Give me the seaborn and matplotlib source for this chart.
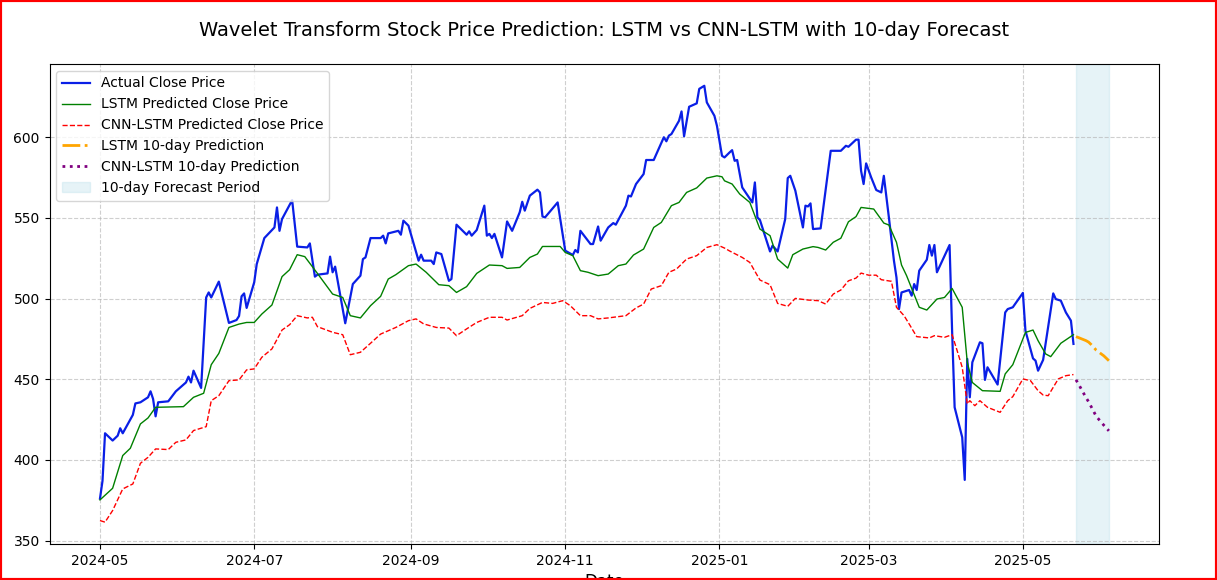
import numpy as np
import pandas as pd
import matplotlib
matplotlib.use("Agg")
import matplotlib.pyplot as plt
import seaborn as sns

# ---------------- data ----------------
start_date = "2024-05-01"

actual_day = [0, 1, 2, 5, 7, 8, 9, 13, 14, 16, 19, 20, 21, 22, 23, 27, 30, 34, 35, 36, 37, 40, 42, 43, 44, 47,
              51, 54, 55, 56, 57, 58, 61, 62, 65, 69, 70, 71, 72, 76, 78, 82, 83, 85, 86, 90, 91, 92, 93, 97,
              100, 103, 104, 105, 107, 111, 112, 113, 114, 118, 119, 120, 122, 126, 127, 128, 131, 132, 133,
              135, 138, 139, 141, 145, 146, 147, 149, 152, 153, 154, 155, 156, 159, 161, 163, 166, 167, 168,
              170, 173, 174, 175, 176, 181, 184, 187, 188, 189, 190, 194, 195, 197, 198, 201, 203, 204, 208,
              209, 210, 212, 215, 216, 219, 223, 224, 225, 226, 229, 230, 231, 233, 236, 237, 239, 240, 243,
              244, 246, 247, 249, 250, 251, 252, 254, 258, 259, 260, 261, 265, 266, 268, 271, 272, 273, 275,
              278, 279, 280, 281, 282, 285, 289, 293, 295, 296, 299, 300, 301, 302, 303, 305, 307, 309, 310,
              312, 314, 315, 316, 317, 320, 321, 322, 323, 324, 327, 328, 329, 330, 331, 336, 337, 338, 341,
              342, 343, 344, 345, 348, 349, 350, 351, 355, 356, 358, 359, 361, 365, 366, 369, 370, 371, 373,
              377, 378, 380, 382, 384, 385]
actual_close = [376.0, 387.0, 416.5, 412.0, 415.0, 419.6, 416.5, 427.9, 435.0, 435.7, 438.8, 442.5, 437.8, 427.0,
                435.7, 436.3, 442.5, 448.0, 451.6, 448.0, 455.3, 444.6, 500.7, 503.8, 500.7, 510.5,
                484.9, 486.7, 489.2, 501.4, 503.2, 494.2, 510.1, 521.4, 537.5, 544.1, 556.5, 542.0, 549.3,
                561.0, 532.2, 531.7, 534.2, 513.6, 514.8, 515.6, 526.0, 516.3, 519.8, 484.7,
                509.0, 514.2, 524.5, 525.5, 537.5, 537.5, 539.0, 534.2, 540.4, 542.0, 539.6, 548.3, 545.2,
                523.5, 527.2, 523.5, 523.5, 521.4, 528.6, 527.6, 511.0, 512.1, 545.8, 539.6, 541.7, 539.0,
                542.5, 557.6, 539.0, 540.1, 537.5, 540.1, 525.5, 547.8, 542.0, 553.5, 560.0, 554.5,
                563.8, 567.5, 565.8, 550.9, 550.3, 559.6, 529.7, 527.0, 530.1, 528.6, 542.0, 533.8, 533.8,
                544.7, 535.9, 544.1, 546.8, 545.8, 557.6, 563.8, 563.3, 571.0, 577.2, 585.9, 585.9, 600.0,
                597.5, 601.0, 602.0, 610.2, 616.0, 600.6, 618.9, 621.0, 630.0, 631.9, 621.6, 613.3,
                607.1, 588.5, 587.5, 590.6, 592.0, 585.4, 585.9, 568.9, 559.6, 572.0, 550.3, 548.7, 529.2,
                532.8, 529.2, 549.3, 574.7, 576.1, 566.9, 544.1, 557.6, 557.1, 559.0, 543.1, 543.5, 591.6,
                591.6, 594.7, 594.1, 598.5, 598.5, 579.2, 571.0, 583.8, 575.1, 567.3, 565.8, 576.1,
                550.3, 523.5, 513.1, 493.5, 503.8, 505.3, 501.8, 509.0, 505.3, 517.3, 524.1, 533.2, 526.6,
                533.2, 516.3, 533.2, 480.1, 432.6, 414.0, 387.6, 462.6, 438.8, 460.5, 472.9, 472.3, 449.6,
                457.4, 446.7, 461.5, 491.4, 493.5, 494.6, 503.5, 480.1, 462.9, 461.5, 455.3, 462.0,
                503.2, 499.7, 498.7, 491.4, 486.3, 471.9]

lstm_day = [0, 5, 9, 12, 16, 19, 22, 33, 37, 41, 44, 47, 51, 55, 58, 61, 64, 68, 72, 75, 78, 81, 86, 92, 96,
            99, 103, 107, 111, 114, 117, 122, 125, 129, 134, 138, 141, 145, 149, 154, 159, 161, 166, 170,
            173, 175, 182, 184, 187, 190, 193, 197, 201, 205, 208, 211, 215, 219, 222, 226, 229, 232, 236,
            240, 244, 246, 247, 250, 253, 257, 261, 265, 268, 272, 274, 278, 282, 284, 287, 290, 293, 296,
            299, 301, 306, 310, 312, 315, 317, 319, 324, 327, 331, 334, 337, 341, 343, 345, 349, 356, 358,
            361, 366, 369, 371, 374, 376, 380, 385]
lstm_pred = [375.2, 382.4, 402.7, 407.2, 422.3, 426.0, 432.6, 433.0, 438.8, 441.3, 459.0, 466.0, 482.1, 484.2,
             485.2, 485.2, 490.4, 496.0, 513.6, 517.9, 527.2, 526.0, 515.6, 502.8, 500.7,
             489.4, 488.0, 495.6, 501.4, 512.1, 514.8, 520.4, 521.4, 516.3, 508.6, 508.0, 503.8, 507.4,
             515.6, 520.8, 520.4, 518.7, 519.3, 525.5, 527.6, 532.3, 532.3, 528.6, 526.6, 517.3, 516.3,
             514.2, 515.2, 520.4, 521.4, 527.0, 530.7, 544.1, 547.2, 557.6, 559.6, 565.8, 568.6,
             574.7, 576.1, 575.5, 573.0, 571.0, 564.8, 559.6, 543.1, 539.0, 524.5, 518.9, 527.2, 530.7,
             532.2, 531.7, 530.1, 534.9, 537.4, 547.6, 550.8, 556.5, 555.5, 546.8, 545.6, 534.9, 520.8,
             514.2, 494.6, 492.9, 499.7, 500.7, 506.3, 494.6, 460.5, 448.0, 442.9, 442.5, 453.3,
             459.0, 479.0, 480.5, 473.9, 465.7, 464.0, 472.3, 477.6]

cnn_day = [0, 2, 5, 9, 13, 16, 19, 22, 27, 30, 34, 37, 42, 44, 47, 51, 55, 58, 61, 64, 68, 72, 75, 78, 82, 84,
           86, 92, 96, 99, 103, 107, 111, 117, 122, 125, 128, 133, 138, 141, 145, 149, 154, 159, 161, 167,
           170, 175, 179, 183, 186, 190, 194, 197, 201, 208, 212, 215, 218, 222, 225, 228, 232, 236, 240,
           244, 247, 249, 254, 257, 261, 265, 268, 272, 275, 280, 284, 287, 290, 293, 296, 299, 301, 304,
           307, 309, 313, 315, 318, 320, 323, 328, 330, 334, 337, 339, 341, 343, 344, 346, 348, 351, 356,
           359, 361, 365, 368, 371, 373, 375, 379, 382, 385]
cnn_pred = [362.4, 361.4, 368.6, 382.0, 385.1, 397.9, 401.6, 406.8, 406.4, 410.9, 412.4, 418.2, 420.6, 436.7,
            439.8, 449.1, 449.6, 455.8, 456.4, 463.6, 468.8, 480.5, 483.8, 489.4, 488.0, 488.4,
            482.6, 479.1, 477.6, 465.2, 466.7, 472.3, 478.0, 482.1, 486.3, 487.4, 484.3, 482.1, 481.7,
            477.0, 481.2, 485.2, 488.4, 488.4, 486.7, 489.4, 493.9, 497.6, 497.0, 498.7, 495.6, 489.4,
            489.4, 487.4, 488.0, 489.4, 494.2, 496.6, 505.9, 508.0, 516.3, 518.3, 524.5, 526.6, 531.7,
            533.4, 531.3, 529.5, 525.5, 522.4, 511.5, 508.6, 497.0, 495.2, 500.1, 499.1, 498.7, 496.6,
            502.8, 505.3, 511.0, 512.7, 515.8, 514.5, 514.5, 511.7, 510.7, 494.6, 489.4, 484.3, 476.4,
            475.6, 477.0, 476.0, 477.6, 467.7, 457.4, 434.7, 436.7, 433.6, 436.7, 432.6, 429.5,
            436.7, 439.2, 450.2, 449.1, 442.9, 440.2, 439.8, 450.2, 452.2, 452.9]

forecast_start = "2025-05-22"
forecast_days = 10
lstm_forecast = [476.4, 475.8, 473.9, 473.0, 471.5, 469.8, 468.0, 464.5, 463.0, 461.5]
cnn_forecast = [449.6, 447.0, 438.5, 436.0, 433.0, 430.0, 427.0, 421.5, 419.8, 418.0]

title = "Wavelet Transform Stock Price Prediction: LSTM vs CNN-LSTM with 10-day Forecast"

# ---------------- build frames ----------------
base = pd.Timestamp(start_date)
to_dates = lambda d: base + pd.to_timedelta(np.asarray(d), unit="D")
df_actual = pd.DataFrame({"Date": to_dates(actual_day), "Close": actual_close})
df_lstm = pd.DataFrame({"Date": to_dates(lstm_day), "Close": lstm_pred})
df_cnn = pd.DataFrame({"Date": to_dates(cnn_day), "Close": cnn_pred})
f_dates = pd.bdate_range(forecast_start, periods=forecast_days)
df_flstm = pd.DataFrame({"Date": f_dates, "Close": lstm_forecast})
df_fcnn = pd.DataFrame({"Date": f_dates, "Close": cnn_forecast})

# ---------------- plot ----------------
fig = plt.figure(figsize=(12.17, 5.8), dpi=100)
ax_rect = [0.0407, 0.0621, 0.9119, 0.8276]
ax = fig.add_axes(ax_rect)

sns.lineplot(data=df_actual, x="Date", y="Close", ax=ax, color="#0a1fe6", linewidth=1.6,
             label="Actual Close Price")
sns.lineplot(data=df_lstm, x="Date", y="Close", ax=ax, color="green", linewidth=1,
             label="LSTM Predicted Close Price")
sns.lineplot(data=df_cnn, x="Date", y="Close", ax=ax, color="red", linewidth=1, linestyle="--",
             label="CNN-LSTM Predicted Close Price")
sns.lineplot(data=df_flstm, x="Date", y="Close", ax=ax, color="orange", linewidth=2, linestyle="-.",
             label="LSTM 10-day Prediction")
sns.lineplot(data=df_fcnn, x="Date", y="Close", ax=ax, color="purple", linewidth=2, linestyle=":",
             label="CNN-LSTM 10-day Prediction")
ax.axvspan(f_dates[0], f_dates[-1], color="lightblue", alpha=0.3, label="10-day Forecast Period")

ax.grid(True, linestyle="--", alpha=0.6)
ax.set_xlabel("Date", fontsize=12)
ax.set_ylabel("")
ax.legend(loc="upper left", fontsize=10)
fig.text(ax_rect[0] + ax_rect[2] / 2, 1 - 30 / 580, title, fontsize=14, ha="center", va="center")

fig.add_artist(plt.Rectangle((0, 0), 1, 1, transform=fig.transFigure, fill=False,
                             edgecolor="red", linewidth=3))

fig.savefig("out.png", dpi=100)
